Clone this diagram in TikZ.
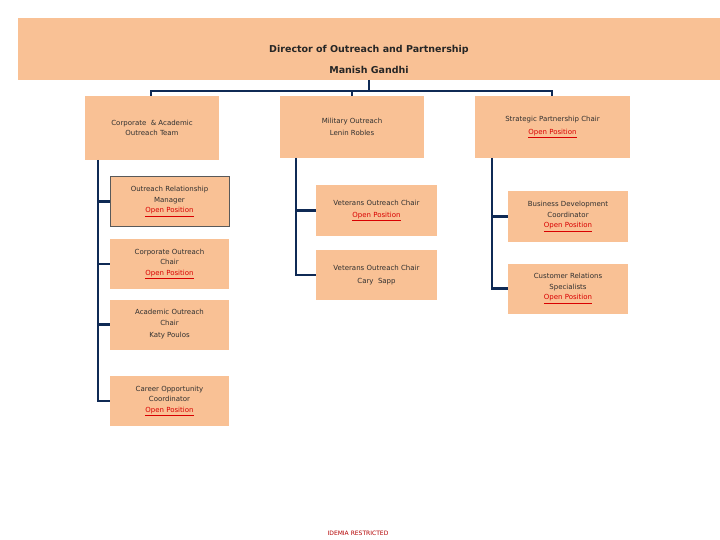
\documentclass[tikz,border=0pt]{standalone}
\usepackage{fontspec}
\setmainfont{DejaVu Sans}
\begin{document}
\begin{tikzpicture}[x=1pt,y=-1pt,
  box/.style={fill=peach,draw=none,inner sep=0pt,align=center,font=\fontsize{7}{10.5}\selectfont,text=txt},
  ln/.style={draw=navy,line width=2.6pt},
  op/.style={text=red!85!black}]
\definecolor{peach}{HTML}{F9C195}
\definecolor{navy}{HTML}{0F2A55}
\definecolor{txt}{HTML}{303030}
\newcommand{\opn}{\textcolor{red!85!black}{\underline{Open Position}}}
\useasboundingbox (0,0) rectangle (720,540);
\path[fill=peach] (18,18) rectangle (720,80);
\node[font=\fontsize{9.5}{21}\selectfont\bfseries,align=center,text=black!85] (top) at (369,59) {Director of Outreach and Partnership\\Manish Gandhi};
\coordinate (tb) at (369,80);
\node[box,minimum width=134pt,minimum height=64pt] (A) at (152,128) {Corporate \ \& Academic\\Outreach Team};
\node[box,minimum width=144pt,minimum height=62pt] (B) at (352,127) {Military Outreach\\[2pt]Lenin Robles};
\node[box,minimum width=155pt,minimum height=62pt] (C) at (552.5,127) {Strategic Partnership Chair\\[2pt]\opn};
\coordinate (h) at (369,91);
\draw[ln] (tb) -- (h);
\draw[ln] (151,96) |- (552,91) -- (552,96);
\draw[ln] (352,91) -- (352,96);
\tikzset{cb/.style={box,minimum width=119pt,minimum height=50pt}}
\node[cb,draw=gray!70!black,line width=0.8pt] (a1) at (169.5,201.5) {Outreach Relationship\\Manager\\\opn};
\node[cb] (a2) at (169.5,264) {Corporate Outreach\\Chair\\\opn};
\node[cb] (a3) at (169.5,324.5) {Academic Outreach\\Chair\\[2pt]Katy Poulos};
\node[cb] (a4) at (169.5,401) {Career Opportunity\\Coordinator\\\opn};
\node[cb,minimum width=121pt] (b1) at (376.5,210.5) {Veterans Outreach Chair\\[2pt]\opn};
\node[cb,minimum width=121pt] (b2) at (376.5,275) {Veterans Outreach Chair\\[2pt]Cary \ Sapp};
\node[cb,minimum width=120pt] (c1) at (568,216.5) {Business Development\\Coordinator\\\opn};
\node[cb,minimum width=120pt] (c2) at (568,288.5) {Customer Relations\\Specialists\\\opn};
\draw[ln] (98,160) |- (a4.west);
\foreach \n in {a1,a2,a3} \draw[ln] (a1.west |- \n.west) ++(-12,0) -- (\n.west);
\draw[ln] (296,158) |- (b2.west);
\draw[ln] (296,0 |- b1.west) -- (b1.west);
\draw[ln] (492,158) |- (c2.west);
\draw[ln] (492,0 |- c1.west) -- (c1.west);
\node[font=\fontsize{6}{7}\selectfont,text=red!70!black] (foot) at (358,533) {IDEMIA RESTRICTED};
\end{tikzpicture}
\end{document}
